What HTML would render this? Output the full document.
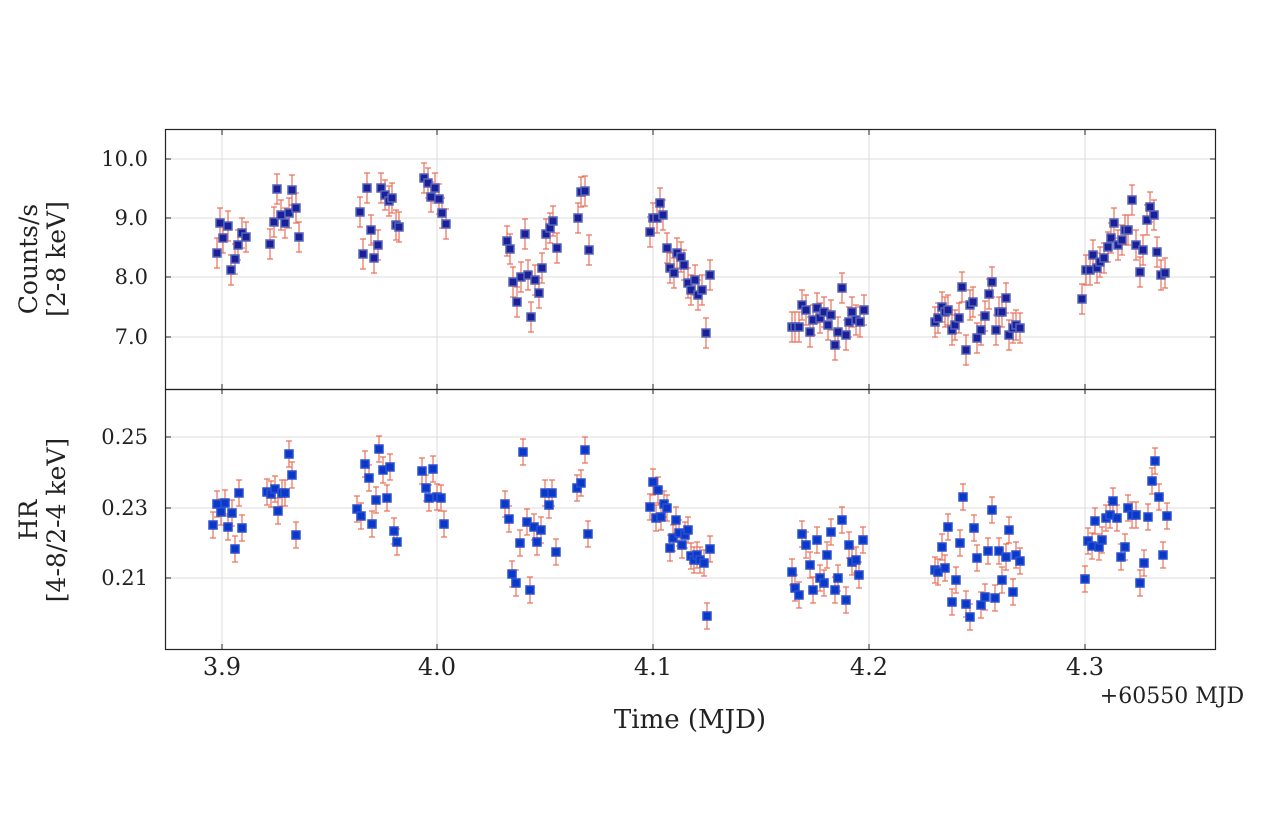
<!DOCTYPE html>
<html><head><meta charset="utf-8"><style>
body{margin:0;background:#fff;}
svg text{font-family:"DejaVu Serif","Liberation Serif",serif;fill:#222;}
</style></head><body>
<svg id="s" width="1280" height="810" xmlns="http://www.w3.org/2000/svg">
<rect width="1280" height="810" fill="#fff"/>
<g id="grid" stroke="#dcdcdc" stroke-width="1"></g>
<g id="pts"></g>
<rect x="165.5" y="129.5" width="1050" height="260" fill="none" stroke="#222" stroke-width="1.2"/>
<rect x="165.5" y="389.5" width="1050" height="260" fill="none" stroke="#222" stroke-width="1.2"/>
<g id="ticks" stroke="#222" stroke-width="1"></g>
<g font-size="21" text-anchor="end">
<text x="148" y="166">10.0</text><text x="148" y="225">9.0</text><text x="148" y="284">8.0</text><text x="148" y="344">7.0</text>
<text x="148" y="444">0.25</text><text x="148" y="515">0.23</text><text x="148" y="585">0.21</text>
</g>
<g font-size="24" text-anchor="middle">
<text x="222" y="675">3.9</text><text x="437" y="675">4.0</text><text x="653" y="675">4.1</text><text x="869" y="675">4.2</text><text x="1085" y="675">4.3</text>
<text x="1172" y="703" font-size="22">+60550 MJD</text>
</g>
<text x="690" y="728" font-size="26" text-anchor="middle">Time (MJD)</text>
<g font-size="25" text-anchor="middle">
<text transform="translate(37,259) rotate(-90)">Counts/s</text>
<text transform="translate(65,259) rotate(-90)">[2-8 keV]</text>
<text transform="translate(37,520) rotate(-90)">HR</text>
<text transform="translate(65,520) rotate(-90)">[4-8/2-4 keV]</text>
</g>
</svg>
<script>
(function(){
var NS="http://www.w3.org/2000/svg";
function el(p,t,a){var e=document.createElementNS(NS,t);for(var k in a)e.setAttribute(k,a[k]);p.appendChild(e);return e;}
var g=document.getElementById('grid'),tk=document.getElementById('ticks'),P=document.getElementById('pts');
[222,437,653,869,1085].forEach(function(x){el(g,'line',{x1:x,x2:x,y1:130,y2:649});
[[389,384],[389,394],[649,644],[130,135]].forEach(function(a){el(tk,'line',{x1:x,x2:x,y1:a[0],y2:a[1]});});});
[159,218,277,337,437,508,578].forEach(function(y){el(g,'line',{x1:166,x2:1215,y1:y,y2:y});el(tk,'line',{x1:166,x2:171,y1:y,y2:y});el(tk,'line',{x1:1215,x2:1210,y1:y,y2:y});});
var tp=[[217,253],[220,223],[223,238],[228,226],[231,270],[235,259],[238,245],[242,233],[246,237],
[270,244],[274,222],[277,189],[281,215],[285,223],[289,213],[292,190],[296,208],[299,237],
[360,212],[363,254],[367,188],[371,230],[374,258],[378,245],[381,188],[385,195],[389,201],[392,198],[396,225],[399,227],
[424,178],[428,183],[431,197],[435,188],[439,199],[442,213],[446,224],
[507,241],[510,249],[513,282],[517,302],[521,277],[525,234],[528,275],[531,317],[535,280],[539,293],[542,268],[546,234],[550,228],[553,221],[557,248],[578,218],[581,192],[585,191],[589,250],
[650,232],[653,218],[657,218],[660,203],[663,215],[667,248],[670,268],[674,273],[677,253],[681,257],[684,265],[688,283],[691,290],[695,280],[698,295],[702,290],[706,333],[710,275],
[792,327],[795,327],[799,327],[802,305],[806,310],[810,332],[813,320],[817,308],[820,318],[824,312],[828,325],[831,315],[835,345],[838,332],[842,288],[846,335],[849,322],[852,312],[856,320],[860,322],[864,310],
[935,322],[938,318],[942,307],[945,312],[948,310],[952,330],[955,325],[959,318],[962,287],[966,350],[970,305],[973,302],[977,338],[981,330],[985,316],[989,294],[992,282],[996,330],[999,312],[1002,312],[1006,298],[1009,335],[1013,328],[1016,325],[1020,328],
[1082,299],[1086,270],[1090,270],[1093,255],[1097,268],[1100,262],[1104,258],[1108,247],[1111,238],[1114,223],[1118,245],[1122,240],[1125,230],[1128,230],[1132,200],[1136,245],[1140,272],[1143,250],[1147,220],[1150,207],[1154,215],[1157,252],[1161,275],[1165,273]];
var bt=[[213,525],[217,504],[221,512],[225,503],[228,527],[232,513],[235,549],[239,493],[242,528],
[267,492],[271,494],[275,489],[278,511],[282,493],[285,493],[289,454],[292,475],[296,535],
[357,509],[361,516],[365,464],[369,478],[372,524],[376,500],[379,449],[383,470],[387,498],[390,467],[394,531],[397,542],
[422,471],[426,488],[429,498],[433,469],[437,497],[441,498],[444,524],
[505,504],[509,519],[512,574],[516,583],[520,543],[523,452],[527,522],[530,590],[534,527],[537,542],[541,530],[545,493],[549,505],[552,493],[556,552],[577,488],[581,483],[585,450],[588,534],
[650,507],[653,482],[656,518],[658,490],[661,517],[664,504],[667,508],[670,548],[673,538],[676,520],[679,533],[682,545],[685,535],[688,530],[691,556],[694,560],[697,555],[700,560],[704,563],[707,616],[710,549],
[792,572],[795,588],[799,595],[802,534],[806,545],[810,565],[813,590],[817,540],[820,578],[824,583],[827,555],[831,532],[835,590],[838,578],[842,520],[846,600],[849,545],[852,562],[856,560],[859,575],[863,540],
[935,570],[938,572],[942,547],[945,568],[948,527],[952,602],[956,580],[960,543],[963,497],[966,604],[970,617],[974,528],[977,558],[981,605],[985,597],[988,551],[992,510],[995,598],[999,551],[1002,580],[1006,557],[1009,530],[1013,592],[1016,555],[1020,561],
[1085,579],[1088,541],[1092,546],[1095,521],[1099,547],[1102,540],[1106,518],[1110,515],[1113,501],[1117,518],[1121,557],[1125,547],[1128,508],[1132,515],[1136,515],[1140,583],[1144,563],[1148,517],[1152,481],[1155,461],[1159,497],[1163,555],[1167,516]];
function draw(arr,e,fill,stroke){arr.forEach(function(p){var x=p[0],y=p[1];
el(P,'line',{x1:x,x2:x,y1:y-e,y2:y+e,stroke:'#e8705a','stroke-width':1.2});
el(P,'line',{x1:x-3,x2:x+3,y1:y-e,y2:y-e,stroke:'#e8705a','stroke-width':1.2});
el(P,'line',{x1:x-3,x2:x+3,y1:y+e,y2:y+e,stroke:'#e8705a','stroke-width':1.2});});
arr.forEach(function(p){el(P,'rect',{x:p[0]-4,y:p[1]-4,width:8,height:8,fill:fill,stroke:stroke,'stroke-width':1.5});});}
draw(tp,15,'#1a1f9a','#5865b8');
draw(bt,13,'#0a38c8','#2a50d0');
})();
</script>
</body></html>
